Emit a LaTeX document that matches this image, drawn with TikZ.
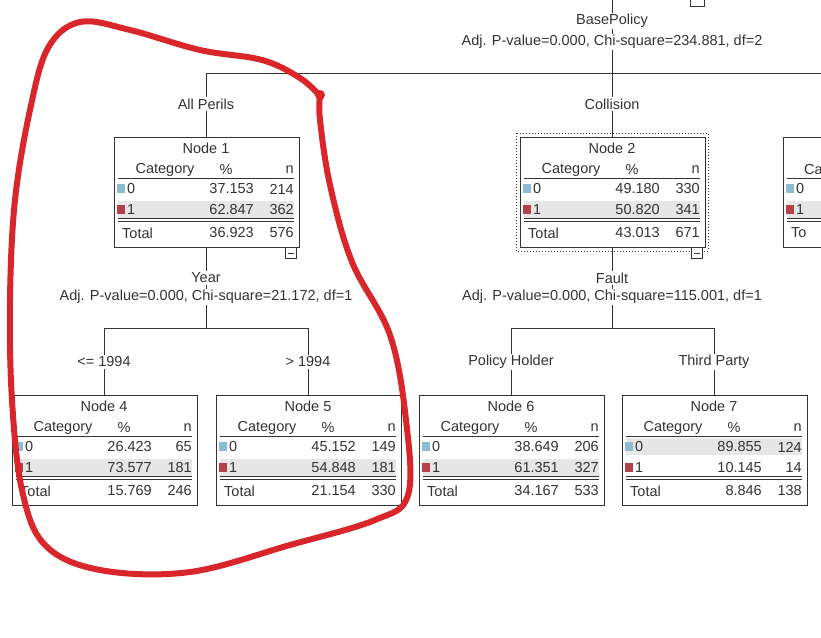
\documentclass[tikz,border=0pt]{standalone}
\usepackage{fontspec}
\setmainfont{Liberation Sans}
\definecolor{sqb}{HTML}{8DBCD2}
\definecolor{sqr}{HTML}{B3414A}
\definecolor{hl}{HTML}{E6E6E6}
\definecolor{ln}{HTML}{333333}
\definecolor{pen}{HTML}{D9262A}
\tikzset{
  txt/.style={inner sep=0pt,font=\fontsize{14.5}{16}\selectfont,text=ln},
  lab/.style={txt,fill=white,inner sep=1.5pt},
  box/.style={draw=ln,anchor=north west,minimum width=185pt,minimum height=110pt,inner sep=0pt,line width=0.8pt},
  conn/.style={draw=ln,line width=0.8pt},
}
\newcommand\tframe[3]{%
  \node[box] (#1) at (#2,#3) {};
  \draw[ln,line width=0.8pt] (#2+4,#3+41) -- (#2+180,#3+41);
  \draw[ln,line width=0.8pt] (#2+4,#3+81) -- (#2+180,#3+81);
  \draw[ln,line width=0.8pt] (#2+4,#3+84) -- (#2+180,#3+84);
}
\newcommand\tbox[5]{%
  \fill[hl] (#2+4,#3+#5) rectangle (#2+180,#3+#5+17);
  \tframe{#1}{#2}{#3}
  \node[txt] at (#2+92,#3+11) {#4};
  \node[txt] at (#2+51,#3+33) {Category};
  \node[txt] at (#2+112,#3+33) {\%};
  \node[txt,anchor=east] at (#2+180,#3+33) {n};
}
\newcommand\trow[7]{%
  \ifx\relax#4\relax\else\fill[#4] (#1+3,#2+#3-5) rectangle (#1+11,#2+#3+4);\fi
  \node[txt,anchor=west] at (#1+#5,#2+#3) {#6};
  \node[txt,anchor=east] at (#1+140,#2+#3) {#7};
}
\newcommand\tn[3]{\node[txt,anchor=east] at (#1+180,#2+#3)}
\begin{document}
\begin{tikzpicture}[x=1pt,y=-1pt]
\useasboundingbox (0,0) rectangle (821,637);
% connectors
\coordinate (top) at (612,0);
\coordinate (h0) at (612,73);
\coordinate (hl0) at (206,73);
\coordinate (hr0) at (821,73);
\draw[conn] (top) -- (h0);
\draw[conn] (hl0) -- (hr0);
\fill[white] (690,-1) rectangle (704,6);
\draw[ln,line width=0.8pt] (690,-1) -- (690,6) -- (704,6) -- (704,-1);
% boxes
\tbox{n1}{114}{137}{Node 1}{64}
\trow{114}{137}{52}{sqb}{13}{0}{37.153}\tn{114}{137}{52}{214};
\trow{114}{137}{73}{sqr}{13}{1}{62.847}\tn{114}{137}{73}{362};
\trow{114}{137}{96}{}{8}{Total}{36.923}\tn{114}{137}{96}{576};
\tbox{n2}{520}{137}{Node 2}{64}
\trow{520}{137}{52}{sqb}{13}{0}{49.180}\tn{520}{137}{52}{330};
\trow{520}{137}{73}{sqr}{13}{1}{50.820}\tn{520}{137}{73}{341};
\trow{520}{137}{96}{}{8}{Total}{43.013}\tn{520}{137}{96}{671};
\draw[ln,dotted,line width=1pt] (516,133) rectangle (708,251);
\fill[hl] (787,201) rectangle (821,218);
\tframe{n3}{783}{137}
\node[txt,anchor=west] at (804,170) {Ca};
\trow{783}{137}{52}{sqb}{13}{0}{}
\trow{783}{137}{73}{sqr}{13}{1}{}
\node[txt,anchor=west] at (791,233) {To};
\tbox{n4}{12}{395}{Node 4}{64}
\trow{12}{395}{52}{sqb}{13}{0}{26.423}\tn{12}{395}{52}{65};
\trow{12}{395}{73}{sqr}{13}{1}{73.577}\tn{12}{395}{73}{181};
\trow{12}{395}{96}{}{8}{Total}{15.769}\tn{12}{395}{96}{246};
\tbox{n5}{216}{395}{Node 5}{64}
\trow{216}{395}{52}{sqb}{13}{0}{45.152}\tn{216}{395}{52}{149};
\trow{216}{395}{73}{sqr}{13}{1}{54.848}\tn{216}{395}{73}{181};
\trow{216}{395}{96}{}{8}{Total}{21.154}\tn{216}{395}{96}{330};
\tbox{n6}{419}{395}{Node 6}{64}
\trow{419}{395}{52}{sqb}{13}{0}{38.649}\tn{419}{395}{52}{206};
\trow{419}{395}{73}{sqr}{13}{1}{61.351}\tn{419}{395}{73}{327};
\trow{419}{395}{96}{}{8}{Total}{34.167}\tn{419}{395}{96}{533};
\tbox{n7}{622}{395}{Node 7}{43}
\trow{622}{395}{52}{sqb}{13}{0}{89.855}\tn{622}{395}{52}{124};
\trow{622}{395}{73}{sqr}{13}{1}{10.145}\tn{622}{395}{73}{14};
\trow{622}{395}{96}{}{8}{Total}{8.846}\tn{622}{395}{96}{138};
% minus boxes
\node[draw=ln,fill=white,minimum size=11pt,inner sep=0pt,anchor=north east,line width=0.6pt] (m1) at (297,247) {};
\draw[ln] ([xshift=-3pt]m1.center) -- ([xshift=3pt]m1.center);
\node[draw=ln,fill=white,minimum size=11pt,inner sep=0pt,anchor=north east,line width=0.6pt] (m2) at (703,247) {};
\draw[ln] ([xshift=-3pt]m2.center) -- ([xshift=3pt]m2.center);
% child connectors
\draw[conn] (hl0) -- (n1.north -| hl0);
\draw[conn] (h0) -- (n2.north -| h0);
\coordinate (h1) at (206,328);
\coordinate (h1l) at (104,328);
\coordinate (h1r) at (308,328);
\draw[conn] (206,247) -- (h1);
\draw[conn] (h1l) -- (h1r);
\draw[conn] (h1l) -- (n4.north -| h1l);
\draw[conn] (h1r) -- (n5.north -| h1r);
\coordinate (h2) at (612,328);
\coordinate (h2l) at (511,328);
\coordinate (h2r) at (714,328);
\draw[conn] (612,247) -- (h2);
\draw[conn] (h2l) -- (h2r);
\draw[conn] (h2l) -- (n6.north -| h2l);
\draw[conn] (h2r) -- (n7.north -| h2r);
% labels
\node[lab] at (612,21) {BasePolicy};
\node[lab] at (612,42) {Adj. P-value=0.000, Chi-square=234.881, df=2};
\node[lab] at (206,104) {All Perils};
\node[lab] at (612,104) {Collision};
\node[lab] at (206,278) {Year};
\node[lab] at (206,297) {Adj. P-value=0.000, Chi-square=21.172, df=1};
\node[lab] at (612,278) {Fault};
\node[lab] at (612,297) {Adj. P-value=0.000, Chi-square=115.001, df=1};
\node[lab] at (104,362) {<= 1994};
\node[lab] at (308,362) {> 1994};
\node[lab] at (511,362) {Policy Holder};
\node[lab] at (714,362) {Third Party};
% red freehand loop
\draw[pen,line width=6pt,line cap=round,line join=round] plot[smooth,tension=0.6] coordinates {
 (320,96) (300,78) (262,60) (200,50) (130,30) (80,22) (48,48) (30,110) (15,200)
 (10,300) (12,400) (22,490) (45,545) (100,570) (190,572) (290,545) (375,520) (408,495)
 (406,420) (390,335) (352,262) (330,185) (320,120) (320,96)};
\fill[pen] (320,95) circle (5pt);
\end{tikzpicture}
\end{document}
